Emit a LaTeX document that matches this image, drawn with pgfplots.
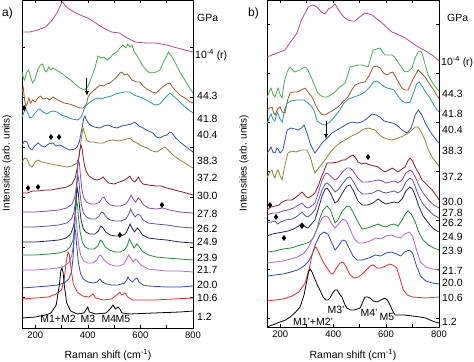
\documentclass[border=0pt]{standalone}
\usepackage{pgfplots}
\pgfplotsset{compat=1.18}
\usepackage{fontspec}
\setmainfont{Liberation Sans}
\usetikzlibrary{arrows.meta}
\definecolor{cP}{RGB}{175,70,150}
\definecolor{cG}{RGB}{70,170,80}
\definecolor{cBr}{RGB}{155,90,40}
\definecolor{cT}{RGB}{40,150,160}
\definecolor{cB}{RGB}{50,80,165}
\definecolor{cO}{RGB}{135,135,50}
\definecolor{cDR}{RGB}{135,25,35}
\definecolor{cV}{RGB}{135,75,170}
\definecolor{cS}{RGB}{85,85,155}
\definecolor{cN}{RGB}{35,35,90}
\definecolor{cGr}{RGB}{35,135,55}
\definecolor{cL}{RGB}{175,100,200}
\definecolor{cBl}{RGB}{45,75,175}
\definecolor{cR}{RGB}{220,45,45}
\pgfplotsset{
  ram/.style={scale only axis, xmin=150, xmax=800, ymin=0, y dir=reverse,
    xtick={200,400,600,800}, minor xtick={300,500,700},
    yticklabels={}, tick align=inside, major tick length=3bp, minor tick length=3bp,
    tick style={black, line width=0.5pt}, axis line style={line width=0.6pt},
    ticklabel style={font=\fontsize{9.5}{11}\selectfont},
    /pgf/number format/assume math mode=true, clip=true,
    every axis plot/.append style={line width=0.8pt}},
}
\begin{document}
\begin{tikzpicture}[x=1bp,y=1bp]
\useasboundingbox (0,0) rectangle (474,361);
% ---------------- panel a ----------------
\begin{axis}[ram, at={(22bp,33bp)}, anchor=south west, width=171bp, height=328bp, ymax=328,
  ytick={47,97,147,197,247,297}]
\addplot[cP] coordinates {(150,32)(180,32)(210,30)(240,27)(265,20)(285,12)(300,3)(305,2)(315,6)(335,10)(355,13)(380,16)(400,18)(430,23)(460,28)(490,32)(520,33)(550,38)(580,42)(620,43)(660,43)(700,45)(740,48)(770,50)(800,52)};
\addplot[cG] coordinates {(150,72)(155,78)(160,80)(168,72)(175,70)(182,76)(190,83)(198,80)(210,70)(220,65)(228,64)(236,70)(243,72)(252,67)(260,70)(268,68)(280,70)(294,72)(305,74)(318,77)(335,80)(351,84)(370,88)(389,90)(401,86)(415,77)(427,68)(439,56)(450,58)(462,57)(473,60)(484,58)(497,54)(510,52)(522,48)(534,45)(545,48)(552,44)(560,47)(568,45)(577,52)(588,56)(600,62)(615,68)(630,72)(644,73)(660,72)(674,70)(688,62)(700,56)(707,52)(715,55)(731,62)(750,72)(769,80)(785,87)(800,93)};
\addplot[cBr] coordinates {(150,92)(155,88)(160,100)(165,106)(170,104)(176,98)(182,103)(190,100)(200,102)(210,98)(220,96)(230,99)(245,98)(255,100)(268,97)(280,99)(294,101)(310,103)(330,104)(351,106)(370,108)(383,108)(395,104)(401,97)(412,93)(425,90)(438,87)(446,85)(460,86)(472,84)(484,83)(497,80)(510,77)(522,73)(530,72)(540,75)(550,74)(560,77)(568,80)(585,82)(598,82)(610,86)(625,89)(644,92)(660,93)(680,88)(700,84)(712,83)(722,87)(731,90)(750,95)(769,98)(785,101)(800,103)};
\addplot[cT] coordinates {(150,117)(158,112)(165,109)(172,113)(180,118)(188,117)(200,113)(210,110)(218,109)(230,112)(245,114)(256,112)(270,111)(283,112)(300,115)(321,117)(340,119)(363,120)(375,117)(385,110)(392,106)(400,104)(420,100)(435,98)(450,99)(473,97)(490,96)(505,94)(522,93)(540,92)(560,92)(575,95)(598,97)(615,99)(636,102)(655,105)(674,104)(690,99)(712,93)(730,97)(750,102)(770,107)(800,113)};
\addplot[cB] coordinates {(150,145)(160,141)(169,142)(178,148)(188,150)(198,146)(211,143)(225,146)(237,147)(250,144)(268,143)(280,146)(294,145)(315,148)(332,150)(350,149)(359,147)(368,142)(378,128)(385,118)(389,116)(395,120)(408,125)(425,127)(446,128)(460,126)(477,125)(495,127)(511,128)(530,126)(549,125)(565,124)(579,122)(595,126)(610,128)(630,131)(648,133)(660,137)(674,138)(688,136)(701,135)(712,132)(720,133)(735,138)(750,142)(775,147)(800,152)};
\addplot[cO] coordinates {(150,162)(160,158)(169,159)(178,165)(188,167)(200,162)(211,160)(225,162)(240,163)(260,164)(279,165)(300,166)(320,167)(340,166)(359,163)(368,155)(375,140)(382,128)(388,133)(396,140)(408,142)(420,142)(440,143)(458,143)(475,141)(496,140)(515,141)(534,140)(548,139)(560,138)(572,141)(587,143)(605,146)(625,148)(645,151)(663,152)(680,149)(693,147)(705,150)(724,155)(750,160)(775,164)(800,168)};
\addplot[cDR] coordinates {(150,193)(170,193)(190,191)(210,191)(240,190)(260,190)(280,189)(300,188)(320,187)(340,184)(352,178)(360,168)(366,158)(370,150)(374,145)(378,148)(383,158)(388,166)(395,172)(405,176)(420,179)(435,180)(448,179)(458,177)(468,180)(480,183)(500,184)(520,182)(540,180)(552,178)(560,176)(568,180)(578,182)(585,180)(592,177)(600,181)(610,184)(630,185)(660,186)(680,186)(700,188)(730,190)(760,192)(800,195)};
\addplot[cV] coordinates {(150,212)(200,212)(250,211)(290,210)(320,208)(340,204)(350,198)(356,188)(360,175)(363,163)(365,160)(368,163)(372,175)(378,190)(385,198)(395,202)(410,204)(430,204)(445,202)(455,198)(462,197)(470,201)(485,205)(505,206)(525,206)(545,204)(558,199)(565,195)(572,199)(582,202)(592,198)(600,200)(612,205)(630,208)(660,209)(685,208)(710,210)(750,212)(800,213)};
\addplot[cS] coordinates {(150,227)(200,227)(250,226)(290,225)(320,223)(338,219)(348,212)(354,200)(358,187)(362,175)(366,180)(370,192)(376,205)(384,213)(395,217)(410,219)(430,219)(443,216)(452,212)(460,213)(470,217)(485,220)(505,221)(525,221)(545,219)(556,214)(563,209)(570,213)(580,217)(590,214)(598,215)(610,220)(630,223)(660,224)(700,225)(750,227)(800,228)};
\addplot[cN] coordinates {(150,242)(200,242)(250,241)(290,240)(318,238)(335,234)(346,226)(352,214)(356,200)(360,188)(364,193)(368,205)(374,219)(382,228)(392,232)(408,234)(428,234)(440,231)(450,226)(458,228)(468,232)(485,235)(505,236)(525,236)(543,234)(553,229)(561,224)(568,228)(578,232)(588,228)(596,230)(608,235)(630,238)(660,239)(700,240)(750,242)(800,243)};
\addplot[cGr] coordinates {(150,255)(200,255)(250,254)(290,253)(316,251)(333,247)(344,240)(350,228)(354,213)(357,200)(361,205)(365,218)(371,232)(379,242)(390,247)(405,249)(425,249)(438,246)(448,240)(456,242)(466,247)(483,250)(503,252)(523,252)(540,250)(551,245)(558,239)(566,243)(576,248)(586,244)(594,246)(606,251)(630,255)(660,257)(700,258)(750,259)(800,260)};
\addplot[cL] coordinates {(150,270)(200,270)(250,269)(285,268)(312,266)(330,262)(340,255)(346,243)(350,227)(352,213)(356,218)(360,232)(366,246)(374,256)(385,261)(400,263)(420,263)(435,260)(445,255)(452,256)(462,260)(480,264)(500,266)(520,266)(537,264)(548,259)(555,255)(563,258)(572,262)(582,259)(590,261)(602,265)(630,269)(660,270)(700,271)(750,271)(800,272)};
\addplot[cBl] coordinates {(150,288)(200,287)(250,286)(285,285)(310,283)(328,279)(338,272)(344,258)(348,240)(350,227)(354,232)(358,246)(364,262)(372,273)(383,279)(400,282)(420,283)(435,282)(446,279)(455,282)(470,284)(490,285)(515,285)(540,283)(550,279)(553,277)(560,280)(570,282)(580,279)(587,278)(595,282)(610,285)(630,286)(700,287)(750,287)(800,286)};
\addplot[cR] coordinates {(150,299)(250,297)(280,294)(300,290)(310,280)(318,262)(325,252)(330,255)(336,268)(345,284)(360,292)(380,296)(405,297)(420,294)(430,298)(460,300)(490,299)(510,295)(522,292)(530,295)(542,293)(552,297)(570,300)(650,300)(800,298)};
\addplot[black] coordinates {(150,318)(200,317)(240,315)(260,313)(280,305)(292,285)(298,270)(302,268)(306,272)(312,288)(320,303)(335,311)(360,314)(385,313)(395,309)(400,307)(406,312)(430,314)(470,313)(488,308)(496,305)(505,309)(515,307)(522,309)(530,313)(560,314)(650,313)(750,312)(800,311)};
\addplot[only marks, mark=diamond*, mark size=2.3pt, black] coordinates {(158,108)(260,137)(291,137)(173,188)(211,187)(682,205)(522,235)};
\draw[-{Latex[length=5bp,width=4bp]}, line width=1pt] (axis cs:397,78) -- (axis cs:397,96);
\end{axis}
% ---------------- panel b ----------------
\begin{axis}[ram, at={(267bp,34bp)}, anchor=south west, width=172bp, height=327bp, ymax=327,
  ytick={24,73,122,171,220,269,318}]
\addplot[cP] coordinates {(150,57)(218,50)(263,33)(280,20)(294,13)(306,7)(320,5)(332,6)(343,8)(355,12)(369,14)(382,9)(396,7)(407,4)(416,8)(426,12)(440,17)(456,20)(470,21)(483,21)(500,17)(520,13)(535,14)(547,15)(565,19)(585,23)(605,28)(622,32)(650,35)(672,38)(700,43)(721,47)(750,51)(774,55)(800,61)};
\addplot[cG] coordinates {(150,98)(158,92)(165,88)(172,94)(180,97)(186,92)(192,88)(200,95)(207,98)(215,82)(226,72)(237,67)(246,70)(256,72)(265,71)(275,70)(285,68)(294,67)(305,70)(318,78)(331,86)(340,92)(350,95)(362,97)(377,97)(392,95)(407,92)(425,87)(445,83)(455,75)(464,67)(480,66)(495,65)(509,65)(520,66)(532,67)(542,58)(551,50)(565,49)(577,48)(587,52)(596,55)(610,55)(623,55)(635,58)(645,62)(660,68)(672,72)(685,71)(698,68)(710,58)(721,52)(728,51)(736,53)(748,65)(759,75)(778,84)(796,90)(800,91)};
\addplot[cBr] coordinates {(150,110)(160,108)(169,107)(175,113)(180,115)(190,109)(199,107)(208,112)(218,113)(228,100)(237,93)(250,92)(263,92)(280,90)(294,88)(305,92)(320,97)(332,104)(343,110)(355,114)(369,115)(395,111)(418,107)(440,101)(456,97)(470,90)(483,85)(500,83)(520,82)(535,76)(551,67)(565,66)(577,68)(590,73)(604,75)(615,73)(626,72)(640,79)(660,88)(672,90)(683,90)(700,80)(721,70)(733,73)(747,77)(770,86)(796,97)(800,98)};
\addplot[cT] coordinates {(150,124)(158,118)(165,114)(172,119)(180,121)(188,112)(194,115)(199,119)(208,122)(216,110)(226,103)(240,101)(260,100)(275,100)(290,100)(305,103)(320,107)(330,112)(339,121)(355,124)(370,125)(388,122)(405,117)(425,110)(441,103)(458,99)(479,97)(500,95)(520,92)(539,87)(552,82)(566,81)(580,84)(595,87)(604,88)(618,89)(630,90)(645,96)(660,101)(675,103)(691,102)(705,92)(715,84)(725,82)(738,87)(752,93)(766,98)(780,105)(793,110)(800,112)};
\addplot[cB] coordinates {(150,154)(158,150)(165,147)(172,152)(180,153)(188,148)(194,150)(199,153)(210,150)(218,140)(226,130)(240,128)(255,129)(267,130)(280,128)(290,125)(301,133)(315,145)(331,153)(345,148)(358,143)(374,139)(396,133)(415,130)(433,127)(452,124)(471,122)(490,123)(509,122)(530,118)(547,114)(562,115)(577,117)(592,121)(607,122)(625,123)(640,125)(660,130)(680,133)(695,128)(710,115)(722,110)(735,115)(750,124)(770,133)(790,140)(800,143)};
\addplot[cO] coordinates {(150,178)(160,172)(169,170)(175,176)(180,178)(186,172)(192,170)(200,176)(207,180)(218,165)(229,153)(245,151)(260,152)(280,150)(301,150)(315,158)(324,167)(331,173)(345,168)(369,160)(390,152)(407,147)(425,143)(445,140)(470,136)(494,133)(515,129)(532,128)(545,129)(558,130)(572,134)(585,137)(605,139)(622,140)(645,138)(665,136)(685,133)(698,130)(710,127)(721,127)(735,133)(747,140)(760,150)(774,157)(796,165)(800,166)};
\addplot[cDR] coordinates {(150,210)(165,207)(180,206)(195,205)(207,202)(225,200)(245,200)(265,196)(282,192)(295,196)(305,198)(318,196)(331,193)(345,185)(355,177)(362,173)(377,163)(395,163)(418,162)(435,160)(445,160)(460,157)(475,155)(485,158)(494,162)(508,164)(520,163)(540,165)(555,166)(570,167)(584,170)(596,172)(610,170)(623,168)(635,170)(645,172)(660,169)(672,167)(682,161)(691,158)(700,161)(710,167)(725,174)(736,180)(755,185)(774,190)(796,198)(800,200)};
\addplot[cV] coordinates {(150,215)(170,213)(190,213)(210,211)(230,210)(250,208)(270,205)(282,203)(295,207)(305,208)(318,206)(331,203)(345,192)(358,180)(370,174)(377,173)(390,176)(407,180)(418,178)(435,172)(452,168)(464,168)(475,171)(494,178)(510,182)(530,182)(550,181)(570,180)(585,181)(600,183)(615,182)(630,181)(645,183)(660,180)(675,173)(690,170)(700,172)(712,178)(725,186)(740,193)(760,200)(780,205)(800,208)};
\addplot[cS] coordinates {(150,223)(165,222)(180,221)(190,224)(200,222)(220,220)(245,219)(265,216)(282,212)(295,216)(305,217)(318,214)(331,210)(345,200)(358,190)(370,184)(377,183)(390,186)(407,192)(418,190)(435,184)(452,178)(464,177)(475,181)(494,190)(510,194)(530,194)(550,193)(570,190)(585,192)(600,193)(615,192)(630,191)(645,193)(660,190)(675,182)(690,178)(700,180)(712,188)(725,197)(740,204)(760,210)(780,215)(800,218)};
\addplot[cN] coordinates {(150,236)(170,234)(190,233)(210,232)(230,231)(250,229)(270,226)(282,223)(295,227)(305,228)(318,224)(331,220)(345,208)(358,196)(370,189)(377,188)(390,193)(407,203)(418,201)(435,193)(452,186)(464,185)(475,190)(494,201)(510,205)(530,205)(550,203)(570,199)(585,202)(600,204)(615,203)(630,202)(645,203)(660,199)(675,191)(690,187)(700,189)(712,197)(725,207)(740,216)(760,223)(780,229)(800,232)};
\addplot[cGr] coordinates {(150,252)(180,251)(210,249)(240,248)(265,246)(290,244)(310,242)(325,238)(338,230)(350,218)(362,210)(377,206)(390,210)(407,223)(418,220)(435,211)(452,206)(464,207)(475,212)(494,222)(509,229)(530,228)(550,226)(570,224)(585,226)(600,227)(615,225)(630,224)(645,226)(660,220)(675,213)(683,211)(695,214)(710,222)(725,233)(740,240)(760,245)(780,248)(800,250)};
\addplot[cL] coordinates {(150,263)(180,262)(210,261)(240,259)(265,257)(290,253)(305,248)(320,240)(339,229)(358,218)(370,216)(381,217)(395,224)(407,228)(420,224)(437,219)(450,221)(462,228)(478,238)(495,243)(515,243)(540,241)(560,238)(580,239)(600,236)(620,235)(640,237)(655,238)(670,234)(688,232)(700,236)(715,250)(730,262)(750,267)(775,269)(800,270)};
\addplot[cBl] coordinates {(150,276)(180,275)(210,274)(240,272)(265,270)(290,266)(305,262)(320,255)(335,243)(350,235)(365,232)(380,234)(395,243)(407,250)(420,246)(435,240)(447,241)(460,248)(475,256)(490,260)(510,260)(535,258)(560,255)(580,256)(600,253)(620,252)(640,254)(655,256)(670,252)(688,250)(700,253)(715,266)(730,276)(750,281)(775,283)(800,284)};
\addplot[cR] coordinates {(150,301)(180,300)(210,299)(245,296)(270,292)(294,283)(310,268)(320,255)(328,249)(335,247)(345,252)(360,261)(377,268)(390,273)(400,274)(412,268)(426,263)(437,262)(448,266)(462,274)(478,278)(495,277)(510,274)(525,270)(540,266)(552,265)(565,268)(580,268)(598,266)(612,264)(625,265)(640,268)(652,278)(665,290)(680,295)(700,297)(750,298)(800,297)};
\addplot[black] coordinates {(150,327)(180,324)(199,322)(220,320)(237,317)(255,313)(275,307)(290,295)(301,280)(307,272)(313,269)(320,272)(328,277)(340,285)(350,290)(362,297)(373,300)(380,300)(388,298)(398,293)(407,290)(415,290)(424,294)(433,297)(445,305)(452,308)(465,310)(479,310)(492,309)(502,308)(512,302)(520,297)(530,297)(539,298)(552,301)(566,302)(580,300)(596,298)(605,300)(615,305)(625,311)(634,315)(650,315)(668,315)(700,316)(728,317)(750,318)(766,320)(785,322)(800,323)};
\addplot[only marks, mark=diamond*, mark size=2.3pt, black] coordinates {(161,205)(184,217)(214,238)(282,226)(532,157)};
\draw[-{Latex[length=5bp,width=4bp]}, line width=1pt] (axis cs:373,121) -- (axis cs:373,139);
\end{axis}
% ---------------- texts ----------------
\begin{scope}[every node/.style={font=\fontsize{10.5}{12}\selectfont, inner sep=0pt}]
\node[anchor=west] at (2,348) {\fontsize{12}{14}\selectfont a)};
\node[anchor=west] at (248,348) {\fontsize{12}{14}\selectfont b)};
\node[rotate=90] at (7,198) {\fontsize{10}{12}\selectfont Intensities (arb. units)};
\node[rotate=90] at (244,198) {\fontsize{10}{12}\selectfont Intensities (arb. units)};
\node at (108,6) {Raman shift (cm\textsuperscript{-1})};
\node at (353,6) {Raman shift (cm\textsuperscript{-1})};
% panel a right labels
\node[anchor=west] at (197,343) {GPa};
\node[anchor=west] at (195,306) {10\textsuperscript{-4} (r)};
\node[anchor=west] at (197,265) {44.3};
\node[anchor=west] at (197,242) {41.8};
\node[anchor=west] at (197,226) {40.4};
\node[anchor=west] at (197,200) {38.3};
\node[anchor=west] at (197,183) {37.2};
\node[anchor=west] at (197,165) {30.0};
\node[anchor=west] at (197,147) {27.8};
\node[anchor=west] at (197,132) {26.2};
\node[anchor=west] at (197,119) {24.9};
\node[anchor=west] at (197,103) {23.9};
\node[anchor=west] at (197,91) {21.7};
\node[anchor=west] at (197,76) {20.0};
\node[anchor=west] at (197,63) {10.6};
\node[anchor=west] at (197,44) {1.2};
% panel b right labels
\node[anchor=west] at (447,343) {GPa};
\node[anchor=west] at (441,299) {10\textsuperscript{-4} (r)};
\node[anchor=west] at (442,267) {44.3};
\node[anchor=west] at (442,247) {41.8};
\node[anchor=west] at (442,231) {40.4};
\node[anchor=west] at (442,210) {38.3};
\node[anchor=west] at (442,184) {37.2};
\node[anchor=west] at (442,159) {30.0};
\node[anchor=west] at (442,148) {27.8};
\node[anchor=west] at (442,138) {26.2};
\node[anchor=west] at (442,124) {24.9};
\node[anchor=west] at (442,110) {23.9};
\node[anchor=west] at (442,90) {21.7};
\node[anchor=west] at (442,78) {20.0};
\node[anchor=west] at (442,63) {10.6};
\node[anchor=west] at (442,39) {1.2};
% peak labels
\node at (58,42) {M1+M2};
\node at (88,42) {M3};
\node at (109,42) {M4};
\node at (123,42) {M5};
\node at (313,39) {M1'+M2'};
\node at (336,51) {M3'};
\node at (369,48) {M4'};
\node at (387,44) {M5};
\end{scope}
\end{tikzpicture}
\end{document}
